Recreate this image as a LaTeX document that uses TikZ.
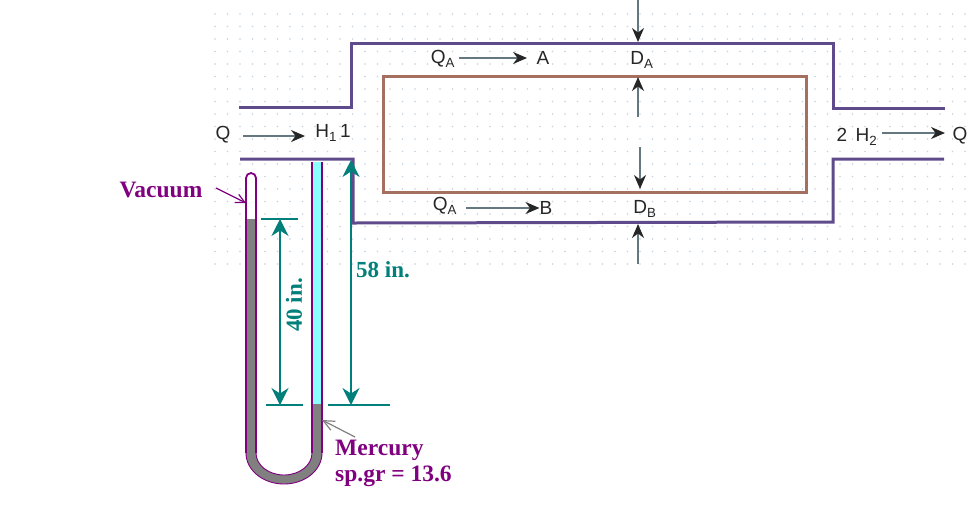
\documentclass[tikz,border=0pt]{standalone}
\usepackage{fontspec}
\setmainfont{Liberation Sans}
\newfontfamily\labelserif{Liberation Serif}[BoldFont={Liberation Serif Bold}]
\usetikzlibrary{arrows.meta,positioning}
\definecolor{pipeviolet}{HTML}{5F4B8B}
\definecolor{wallbrown}{HTML}{A5705F}
\definecolor{tubepurple}{HTML}{800080}
\definecolor{dimteal}{HTML}{007F7B}
\definecolor{griddot}{HTML}{C3D3DF}
\definecolor{mercurygray}{HTML}{808080}
\definecolor{watercyan}{HTML}{8CFFFF}
\definecolor{flowgray}{HTML}{66787F}
\tikzset{
  pipe/.style={draw=pipeviolet, line width=3pt},
  wall/.style={draw=wallbrown, line width=3pt},
  flow/.style={draw=flowgray, line width=1.8pt, -{Stealth[length=14pt,width=12pt,color=black!85]}},
  dimline/.style={draw=dimteal, line width=1.6pt},
  dimarrow/.style={dimline, {Stealth[length=17pt,width=17pt]}-{Stealth[length=17pt,width=17pt]}},
  plain/.style={inner sep=0pt, font=\fontsize{19}{21}\selectfont, text=black!85},
  tealtext/.style={inner sep=0pt, font=\labelserif\bfseries\fontsize{23}{25}\selectfont, text=dimteal},
  purpletext/.style={inner sep=0pt, font=\labelserif\bfseries\fontsize{23.5}{26}\selectfont, text=tubepurple},
}
\begin{document}
\begin{tikzpicture}[x=1pt,y=-1pt]
    \useasboundingbox (0,0) rectangle (968,507);
    % dotted sheet behind the pipes
    \foreach \i in {0,...,60}
      \foreach \j in {0,...,20}
        \fill [griddot] (215+12.5*\i,14+12.5*\j) circle (0.8pt);

    % manometer
    \fill [white] (246,178) arc (180:360:5) -- (256,219) -- (246,219) -- cycle;
    \fill [mercurygray] (246,219) -- (256,219) -- (256,453)
      arc (180:0:28 and 22) -- (312,404) -- (322,404) -- (322,453)
      arc (0:180:38 and 31) -- cycle;
    \fill [watercyan] (312,162) rectangle (322,404);
    \draw [tubepurple, line width=1.8pt] (246,453) -- (246,178) arc (180:360:5) -- (256,453);
    \draw [tubepurple, line width=1.8pt] (312,453) -- (312,162);
    \draw [tubepurple, line width=1.8pt] (322,162) -- (322,453);
    \draw [tubepurple, line width=0.9pt] (256,453) arc (180:0:28 and 22);
    \draw [tubepurple, line width=0.9pt] (322,453) arc (0:180:38 and 31);

    % pipes
    \coordinate (inTop) at (239,107);
    \coordinate (inBot) at (240,159);
    \coordinate (outTop) at (945,108);
    \coordinate (outBot) at (944,159);
    \draw [pipe] (inTop) -| (351,43) -- (833,43) |- (outTop);
    \draw [pipe] (inBot) -| (353,223) -- (833,222) |- (outBot);
    \draw [wall] (383,76) rectangle (806,192);

    % labels and flow arrows
    \node [plain] (qIn) at (223,135) {Q};
    \node [plain] (h1) at (333,133) {H\textsubscript{1}\,1};
    \coordinate (qInEnd) at (305,136);
    \draw [flow] (243,136) -- (qInEnd);
    \node [plain] (qa) at (443,59) {Q\textsubscript{A}};
    \node [plain] (a) at (543,58) {A};
    \draw [flow] (459,58) -- (527,58);
    \node [plain] (qb) at (445,206) {Q\textsubscript{A}};
    \node [plain] (b) at (546,208) {B};
    \draw [flow] (466,208) -- (b.west);
    \node [plain] (da) at (642,60) {D\textsubscript{A}};
    \node [plain] (db) at (645,209) {D\textsubscript{B}};
    \node [plain] (h2) at (857,137) {2\, H\textsubscript{2}};
    \node [plain] (qOut) at (960,136) {Q};
    \draw [flow] (882,133) -- (945,133);

    % gap arrows
    \coordinate (topA) at (638,0);
    \coordinate (topB) at (638,42);
    \coordinate (midA) at (638,117);
    \coordinate (midB) at (638,77);
    \coordinate (midC) at (640,147);
    \coordinate (midD) at (640,189);
    \coordinate (botA) at (638,264);
    \coordinate (botB) at (638,224);
    \draw [flow] (topA) -- (topB);
    \draw [flow] (midA) -- (midB);
    \draw [flow] (midC) -- (midD);
    \draw [flow] (botA) -- (botB);

    % dimensions
    \coordinate (dimA) at (280,219);
    \coordinate (dimB) at (280,405);
    \coordinate (dimC) at (351,160);
    \coordinate (dimD) at (351,405);
    \draw [dimline] (261,219) -- (298,219);
    \draw [dimline] (266,405) -- (303,405);
    \draw [dimline] (328,405) -- (390,405);
    \draw [dimarrow] (dimA) -- (dimB);
    \draw [dimarrow] (dimC) -- (dimD);
    \node [tealtext, rotate=90] (h40) at (294,305) {40 in.};
    \node [tealtext, anchor=west] (h58) at (356,270) {58 in.};

    % manometer notes
    \node [purpletext] (vac) at (161,190) {Vacuum};
    \coordinate (vacTube) at (246,203);
    \draw [tubepurple, line width=1.2pt, -{Straight Barb[length=9pt,width=9pt]}] (216,188) -- (vacTube);
    \node [purpletext, anchor=west] (merc) at (335,450) {Mercury};
    \node [purpletext, anchor=west] (spgr) at (335,476) {sp.gr = 13.6};
    \coordinate (mercTube) at (322,420);
    \draw [mercurygray, line width=1.2pt, -{Straight Barb[length=11pt,width=10pt]}] (355,437) -- (mercTube);
\end{tikzpicture}
\end{document}
